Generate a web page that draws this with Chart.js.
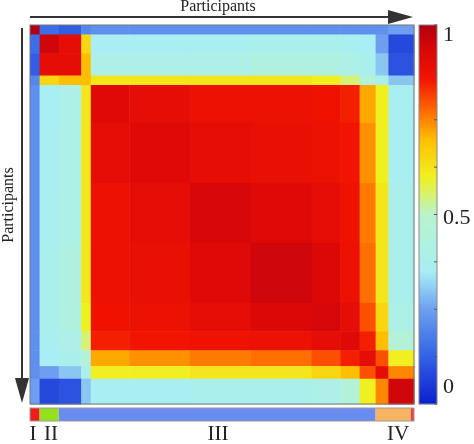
<!DOCTYPE html>
<html><head><meta charset="utf-8">
<script src="https://cdn.jsdelivr.net/npm/chart.js@4"></script>
<style>html,body{margin:0;padding:0;background:#fff}#w{width:474px;height:444px}</style>
</head><body><div id="w"><canvas id="c"></canvas></div>
<script>
// bin edges in participant index (120 participants)
const binEdges = [0,3,9,16,19,31,50,69,88,97,103,108,112,120];
const simMatrix = [
[1.00,.15,.12,.20,.22,.22,.22,.22,.22,.22,.22,.22,.25],
[.15,.95,.90,.65,.35,.36,.37,.38,.38,.37,.35,.25,.08],
[.12,.90,.90,.70,.40,.40,.40,.42,.42,.40,.38,.30,.10],
[.20,.65,.70,.70,.62,.62,.62,.62,.60,.55,.45,.38,.30],
[.22,.35,.40,.62,.92,.90,.88,.88,.87,.85,.72,.60,.36],
[.22,.36,.40,.62,.90,.92,.90,.89,.88,.86,.74,.60,.36],
[.22,.37,.40,.62,.88,.90,.94,.92,.90,.87,.76,.62,.38],
[.22,.38,.42,.62,.88,.89,.92,.95,.93,.88,.77,.62,.38],
[.22,.38,.42,.60,.87,.88,.90,.93,.94,.90,.80,.65,.40],
[.22,.37,.40,.55,.85,.86,.87,.88,.90,.92,.85,.70,.45],
[.22,.35,.38,.45,.72,.74,.76,.77,.80,.85,.90,.80,.60],
[.22,.25,.30,.38,.60,.60,.62,.62,.65,.70,.80,.90,.75],
[.25,.08,.10,.30,.36,.36,.38,.38,.40,.45,.60,.75,.95]
];
const groupNames = ['I','II','III','IV',''];
const groupEdges = [0,3,9,108,119,120];
const groupColors = ['#ee1c1c','#96e01e','#6a8cf0','#f8b464','#f04040'];
const cbTicks = [0,0.5,1];
const cbLabels = ['0','0.5','1'];

const stops=[[0,[10,30,208]],[0.15,[60,110,232]],[0.25,[110,158,240]],[0.35,[168,238,244]],[0.5,[184,244,204]],[0.6,[240,240,32]],[0.7,[255,190,0]],[0.78,[255,100,0]],[0.86,[242,20,0]],[0.93,[220,8,8]],[1,[176,0,16]]];
function col(v){v=Math.max(0,Math.min(1,v));for(let i=1;i<stops.length;i++){if(v<=stops[i][0]){const a=stops[i-1],b=stops[i],t=(v-a[0])/(b[0]-a[0]);const c=a[1].map((x,k)=>Math.round(x+(b[1][k]-x)*t));return `rgb(${c})`;}}return 'rgb(176,0,16)';}

const heat={id:'heat',beforeDatasetsDraw(ch){
 const g=ch.ctx,x=ch.scales.x,y=ch.scales.y,a=ch.chartArea;
 for(let i=0;i<simMatrix.length;i++)for(let j=0;j<simMatrix.length;j++){
  const x0=x.getPixelForValue(binEdges[j]),x1=x.getPixelForValue(binEdges[j+1]);
  const y0=y.getPixelForValue(binEdges[i]),y1=y.getPixelForValue(binEdges[i+1]);
  g.fillStyle=col(simMatrix[i][j]);g.fillRect(x0,y0,x1-x0+0.5,y1-y0+0.5);}
 g.strokeStyle='#777';g.lineWidth=1;g.strokeRect(a.left,a.top,a.right-a.left,a.bottom-a.top);
 const gy=a.bottom+4,gh=13;
 for(let k=0;k<groupNames.length;k++){const p0=x.getPixelForValue(groupEdges[k]),p1=x.getPixelForValue(groupEdges[k+1]);
  g.fillStyle=groupColors[k];g.fillRect(p0,gy,p1-p0,gh);}
 g.strokeStyle='#999';g.strokeRect(a.left,gy,a.right-a.left,gh);
 g.font='21px "Liberation Serif"';g.fillStyle='#222';g.textAlign='center';g.textBaseline='middle';
 const lx=[33,51,218,398];
 ['I','II','III','IV'].forEach((t,k)=>g.fillText(t,lx[k],434));
 const cx=419,cw=18,ct=25,cb=404;
 for(let p=ct;p<cb;p++){g.fillStyle=col((cb-p)/(cb-ct));g.fillRect(cx,p,cw,1.2);}
 g.strokeStyle='#888';g.strokeRect(cx,ct,cw,cb-ct);
 g.strokeStyle='#555';
 for(let t=0;t<=8;t++){const py=cb-(cb-ct)*t/8;g.beginPath();g.moveTo(cx+cw-3,py);g.lineTo(cx+cw,py);g.stroke();}
 g.textAlign='left';g.font='22px "Liberation Serif"';g.fillStyle='#222';
 const ly=[387,218,35];cbTicks.forEach((t,k)=>g.fillText(cbLabels[k],443,ly[k]));
 g.strokeStyle='#333';g.fillStyle='#333';g.lineWidth=2;
 g.beginPath();g.moveTo(30,17);g.lineTo(392,17);g.stroke();
 g.beginPath();g.moveTo(388,10);g.lineTo(413,17);g.lineTo(388,24);g.closePath();g.fill();
 g.beginPath();g.moveTo(22,28);g.lineTo(22,382);g.stroke();
 g.beginPath();g.moveTo(15,378);g.lineTo(22,403);g.lineTo(29,378);g.closePath();g.fill();
 g.font='16px "Liberation Serif"';g.textAlign='center';g.fillStyle='#222';
 g.fillText('Participants',218,7);
 g.save();g.translate(9,205);g.rotate(-Math.PI/2);g.fillText('Participants',0,0);g.restore();
}};
new Chart(document.getElementById('c'),{type:'scatter',data:{datasets:[{data:[]}]},
 options:{responsive:true,maintainAspectRatio:false,animation:false,
  layout:{padding:{left:30,top:25,right:60,bottom:40}},
  plugins:{legend:{display:false},tooltip:{enabled:false}},
  scales:{x:{display:false,min:0,max:120},y:{display:false,min:0,max:120,reverse:true}}},
 plugins:[heat]});
</script></body></html>
